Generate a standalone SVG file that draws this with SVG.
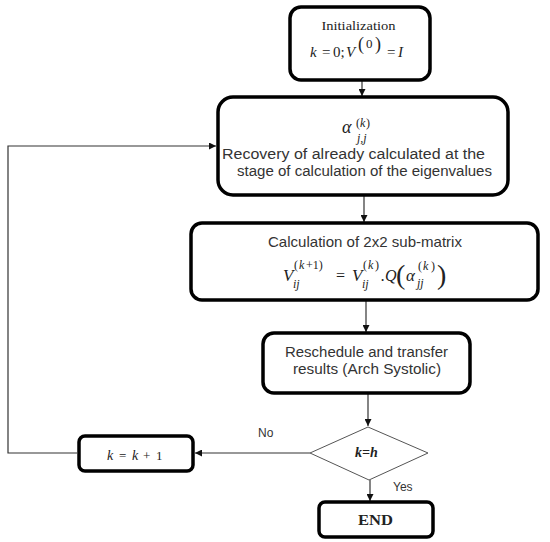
<svg xmlns="http://www.w3.org/2000/svg" width="550" height="542" viewBox="0 0 550 542">
<defs>
<style>
.box{fill:#fff;stroke:#000;stroke-width:3.5}
.dia{fill:#fff;stroke:#555;stroke-width:1}
.con{fill:none;stroke:#333;stroke-width:1.2}
.sans{font-family:"Liberation Sans",Arial,sans-serif;fill:#333}
.ser{font-family:"Liberation Serif","Times New Roman",serif;fill:#222}
.it{font-style:italic}
.lbl{font-family:"Liberation Sans",Arial,sans-serif;font-size:12px;fill:#333}
</style>
<marker id="ah" viewBox="0 0 10 10" refX="10" refY="5" markerWidth="7" markerHeight="7" markerUnits="userSpaceOnUse" orient="auto">
<path d="M0,0 L10,5 L0,10 z" fill="#111"/>
</marker>
</defs>

<g id="connectors">
<line class="con" x1="362" y1="80" x2="362" y2="96" marker-end="url(#ah)"/>
<line class="con" x1="364" y1="195" x2="364" y2="222" marker-end="url(#ah)"/>
<line class="con" x1="366" y1="300" x2="366" y2="332" marker-end="url(#ah)"/>
<line class="con" x1="368" y1="393" x2="368" y2="426" marker-end="url(#ah)"/>
<line class="con" x1="370" y1="480" x2="370" y2="501" marker-end="url(#ah)"/>
<line class="con" x1="310" y1="453" x2="195" y2="453" marker-end="url(#ah)"/>
<polyline class="con" points="77,453 8,453 8,146 216,146" marker-end="url(#ah)"/>
<text class="lbl" x="258" y="437">No</text>
<text class="lbl" x="393" y="491">Yes</text>
</g>

<g id="init">
<rect class="box" x="290" y="7" width="140" height="73" rx="11"/>
<text class="ser" x="358.5" y="30" font-size="13" text-anchor="middle" textLength="74" lengthAdjust="spacingAndGlyphs">Initialization</text>
<text class="ser it" x="310" y="57" font-size="15">k</text>
<text class="ser" x="322" y="57" font-size="15">=</text>
<text class="ser" x="333" y="57" font-size="15">0;</text>
<text class="ser it" x="346" y="57" font-size="15">V</text>
<text class="ser" x="358" y="50" font-size="18">(</text>
<text class="ser" x="366" y="48" font-size="13">0</text>
<text class="ser" x="375" y="50" font-size="18">)</text>
<text class="ser" x="387" y="57" font-size="15">=</text>
<text class="ser it" x="398" y="57" font-size="15">I</text>
</g>

<g id="recovery">
<rect class="box" x="218" y="97" width="290" height="98" rx="15"/>
<text class="ser it" x="342" y="133" font-size="18">α</text>
<text class="ser" x="356" y="127" font-size="12">(</text>
<text class="ser it" x="360" y="127" font-size="12">k</text>
<text class="ser" x="366" y="127" font-size="12">)</text>
<text class="ser it" x="357" y="142" font-size="12">j,j</text>
<text class="sans" x="222" y="159" font-size="14" textLength="263" lengthAdjust="spacingAndGlyphs">Recovery of already calculated at the</text>
<text class="sans" x="237" y="176" font-size="14" textLength="255" lengthAdjust="spacingAndGlyphs">stage of calculation of the eigenvalues</text>
</g>

<g id="calc">
<rect class="box" x="191" y="223" width="347" height="77" rx="11"/>
<text class="sans" x="268" y="247" font-size="14.5" textLength="194" lengthAdjust="spacingAndGlyphs">Calculation of 2x2 sub-matrix</text>
<text class="ser it" x="283" y="281" font-size="17">V</text>
<text class="ser it" x="293" y="288" font-size="12">ij</text>
<text class="ser" x="294" y="269" font-size="12">(</text>
<text class="ser it" x="299" y="269" font-size="12">k</text>
<text class="ser" x="306" y="269" font-size="12">+1)</text>
<text class="ser" x="336" y="281" font-size="16">=</text>
<text class="ser it" x="352" y="281" font-size="17">V</text>
<text class="ser it" x="362" y="288" font-size="12">ij</text>
<text class="ser" x="363" y="269" font-size="12">(</text>
<text class="ser it" x="368" y="269" font-size="12">k</text>
<text class="ser" x="375" y="269" font-size="12">)</text>
<text class="ser it" x="381" y="281" font-size="16">.Q</text>
<text class="ser" x="396" y="284" font-size="28">(</text>
<text class="ser it" x="406" y="281" font-size="17">α</text>
<text class="ser" x="418" y="270" font-size="12">(</text>
<text class="ser it" x="423" y="270" font-size="12">k</text>
<text class="ser" x="431" y="270" font-size="12">)</text>
<text class="ser it" x="417" y="287" font-size="12">jj</text>
<text class="ser" x="437" y="284" font-size="28">)</text>
</g>

<g id="reschedule">
<rect class="box" x="263" y="333" width="207" height="60" rx="11"/>
<text class="sans" x="285" y="357" font-size="14" textLength="163" lengthAdjust="spacingAndGlyphs">Reschedule and transfer</text>
<text class="sans" x="293" y="374" font-size="14" textLength="148" lengthAdjust="spacingAndGlyphs">results (Arch Systolic)</text>
</g>

<g id="decision">
<polygon class="dia" points="368,427 428,453 369,480 310,453"/>
<text class="ser it" x="366.5" y="457" font-size="14" font-weight="bold" text-anchor="middle">k=h</text>
</g>

<g id="increment">
<rect class="box" x="79" y="436" width="114" height="35" rx="6"/>
<text class="ser it" x="107" y="460" font-size="14">k</text>
<text class="ser" x="119" y="460" font-size="13">=</text>
<text class="ser it" x="132" y="460" font-size="14">k</text>
<text class="ser" x="143" y="460" font-size="13">+</text>
<text class="ser" x="156" y="460" font-size="13">1</text>
</g>

<g id="end">
<rect class="box" x="319" y="502" width="114" height="35" rx="6"/>
<text class="ser" x="358" y="525" font-size="14" font-weight="bold" textLength="35" lengthAdjust="spacingAndGlyphs">END</text>
</g>
</svg>
